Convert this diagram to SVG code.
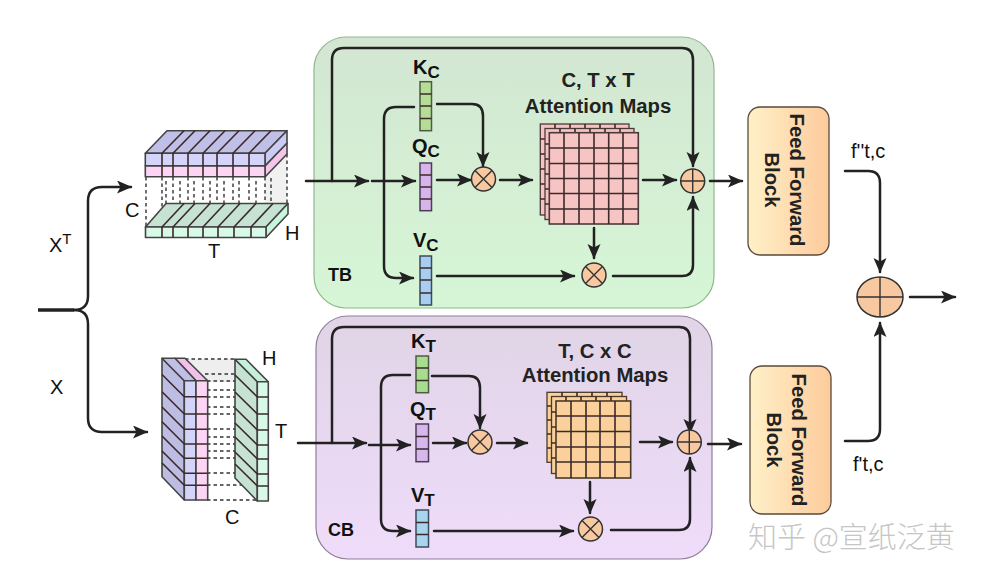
<svg xmlns="http://www.w3.org/2000/svg" width="981" height="577" viewBox="0 0 981 577">
<style>
text{font-family:"Liberation Sans",Arial,sans-serif;fill:#111}
.b{font-weight:bold}
.l{font-size:20px}
.k{font-size:20px;font-weight:bold}
.s{font-size:17px;font-weight:bold}
.t{font-size:20.300px;font-weight:bold;text-anchor:middle;fill:#222}
.c{fill:none;stroke:#222;stroke-width:2.500;stroke-linecap:round;stroke-linejoin:round}
.a{marker-end:url(#ah)}
.e{stroke:#444;stroke-width:1.600;stroke-linejoin:round}
.g{fill:none;stroke:#3a2a2a;stroke-width:1.600}
.d{fill:none;stroke:#333;stroke-width:1.400;stroke-dasharray:3.500 3}
.o{fill:#f8c9a0;stroke:#333;stroke-width:1.500}
.x{fill:none;stroke:#333;stroke-width:1.400}
</style>
<defs>
<marker id="ah" markerUnits="userSpaceOnUse" markerWidth="16" markerHeight="14" refX="14" refY="6.500" orient="auto"><path d="M0,0 L15,6.500 L0,13 L3.500,6.500 Z" fill="#222"/></marker>
<linearGradient id="gt" x1="0" y1="0" x2="0" y2="1"><stop offset="0" stop-color="#d3e6d2"/><stop offset="1" stop-color="#d6f6d6"/></linearGradient>
<linearGradient id="gc" x1="0" y1="0" x2="0" y2="1"><stop offset="0" stop-color="#e0d4e6"/><stop offset="1" stop-color="#efdcfa"/></linearGradient>
<linearGradient id="gf" x1="0" y1="0" x2="1" y2="0"><stop offset="0" stop-color="#fff0c8"/><stop offset="1" stop-color="#fdcb9c"/></linearGradient>
</defs>
<rect width="981" height="577" fill="#fff"/>

<g id="TB">
<rect x="314" y="37" width="400" height="271" rx="32" fill="url(#gt)" stroke="#8fb98c" stroke-width="1.200"/>
<text x="328" y="281" class="b" font-size="18">TB</text>
</g>
<g id="CB">
<rect x="316" y="316" width="396" height="243" rx="32" fill="url(#gc)" stroke="#8e7f99" stroke-width="1.200"/>
<text x="328" y="536" class="b" font-size="18">CB</text>
</g>

<g id="cube-top">
<path d="M265,177 L287,154 L287,204 L265,227 Z" fill="#eeeeee" opacity=".8"/>
<path class="d" d="M146,177V227M162,177V227M173,177V227M188,177V227M203,177V227M217,177V227M233,177V227M249,177V227M265,177V227M166,181V204M180,181V204M194,181V204M210,181V204M224,181V204M239,181V204M256,181V204M271,178V204M287,154V204"/>
<path class="e" fill="#c6e2d2" d="M145.500,227 L166,203.500 L288,203.500 L266,227 Z"/>
<path class="e" fill="#c8f5dc" d="M266,227 L288,203.500 L288,214 L266,237.500 Z"/>
<rect class="e" x="145.500" y="227" width="120.500" height="10.500" fill="#d9f9e8"/>
<path class="g" d="M162,227V237.500M173,227V237.500M188,227V237.500M203,227V237.500M218,227V237.500M234,227V237.500M251,227V237.500M162,227L184,203.500M173,227L195,203.500M188,227L210,203.500M203,227L225,203.500M218,227L240,203.500M234,227L256,203.500M251,227L273,203.500"/>
<path class="e" fill="#f5c6ea" d="M265,166 L287,143 L287,154 L265,177 Z"/>
<rect class="e" x="145.300" y="165.700" width="119.700" height="11" fill="#fbd5f3"/>
<path class="e" fill="#c0bfe8" d="M145.300,153.300 L167,130.700 L287,130.700 L265,153.300 Z"/>
<path class="e" fill="#cbcbf5" d="M265,153.300 L287,130.700 L287,143 L265,165.700 Z"/>
<rect class="e" x="145.300" y="153.300" width="119.700" height="12.400" fill="#d4d4fb"/>
<path class="g" d="M162,153.300V176.700M173,153.300V176.700M188,153.300V176.700M203,153.300V176.700M217,153.300V176.700M233,153.300V176.700M249,153.300V176.700M162,153.300L184,130.700M173,153.300L195,130.700M188,153.300L210,130.700M203,153.300L225,130.700M217,153.300L239,130.700M233,153.300L255,130.700M249,153.300L271,130.700"/>
<text x="125" y="217" class="l">C</text>
<text x="208" y="258" class="l">T</text>
<text x="285" y="240" class="l">H</text>
</g>

<g id="cube-bottom">
<path d="M185,359 L235,359 L257,382 L207,382 Z" fill="#eeeeee"/>
<path class="d" d="M185,359H235M207,381H257M207,397H257M207,414H257M207,429H257M207,444H257M207,458H257M207,473H257M207,485H257M207,500H257M205,374H250M207,390H235M207,407H235M207,437H235M207,451H235"/>
<path class="e" fill="#c6e2d2" d="M235,359.300 L257.300,381.700 L257.300,501 L235,478 Z"/>
<path class="e" fill="#c4f0d8" d="M235,359.300 L246,359.300 L268.300,381.700 L257.300,381.700 Z"/>
<rect class="e" x="257.300" y="381.700" width="11" height="119.300" fill="#d9f9e8"/>
<path class="g" d="M257.300,397H268.300M257.300,414H268.300M257.300,430H268.300M257.300,445H268.300M257.300,459H268.300M257.300,474H268.300M257.300,486H268.300M235,375L257.300,397M235,392L257.300,414M235,408L257.300,430M235,423L257.300,445M235,437L257.300,459M235,452L257.300,474M235,464L257.300,486"/>
<path class="e" fill="#bdbce2" d="M162,358.300 L184.300,380.700 L184.300,500 L162,476.700 Z"/>
<path class="e" fill="#f3c0ea" d="M175,358.300 L185,358.300 L207.700,380.700 L196,380.700 Z"/>
<path class="e" fill="#c0bfe8" d="M162,358.300 L175,358.300 L196,380.700 L184.300,380.700 Z"/>
<rect class="e" x="184.300" y="380.700" width="11.700" height="119.300" fill="#d4d4fb"/>
<rect class="e" x="196" y="380.700" width="11.700" height="119.300" fill="#fbd5f3"/>
<path class="g" d="M184.300,396.700H207.700M184.300,414H207.700M184.300,429.300H207.700M184.300,444H207.700M184.300,458.300H207.700M184.300,473.300H207.700M184.300,485.300H207.700M162,374.500L184.300,396.700M162,391.700L184.300,414M162,407L184.300,429.300M162,421.700L184.300,444M162,436L184.300,458.300M162,451L184.300,473.300M162,463L184.300,485.300"/>
<text x="262" y="365" class="l">H</text>
<text x="275" y="438" class="l">T</text>
<text x="225" y="524" class="l">C</text>
</g>

<g id="connectors">
<path d="M38,310 H74" fill="none" stroke="#222" stroke-width="3.500"/>
<path class="c a" d="M74,310 Q88,310 88,296 V201 Q88,187 102,187 H131"/>
<path class="c a" d="M74,310 Q88,310 88,324 V418 Q88,432 102,432 H147"/>
<path class="c a" d="M306,181 H368"/>
<path class="c a" d="M332,181 V60 Q332,48 344,48 H682 Q693,48 693,60 V166"/>
<path class="c a" d="M372,181 H415"/>
<path class="c a" d="M414,107 H396 Q384,107 384,119 V266 Q384,278 396,278 H413"/>
<path class="c a" d="M437,104 H472 Q483,104 483,116 V166"/>
<path class="c a" d="M437,180 H471"/>
<path class="c a" d="M500,180 H532"/>
<path class="c a" d="M643,180 H676"/>
<path class="c a" d="M594,228 V258"/>
<path class="c a" d="M437,276 H574"/>
<path class="c a" d="M613,276 H682 Q693,276 693,265 V197"/>
<path class="c a" d="M710,181 H742"/>
<path class="c a" d="M298,443 H366"/>
<path class="c a" d="M332,443 V339 Q332,327 344,327 H679 Q690,327 690,339 V433"/>
<path class="c a" d="M369,445 H410"/>
<path class="c a" d="M410,375 H393 Q381,375 381,387 V519 Q381,531 393,531 H410"/>
<path class="c a" d="M432,376 H469 Q480,376 480,388 V428"/>
<path class="c a" d="M433,443 H466"/>
<path class="c a" d="M497,443 H527"/>
<path class="c a" d="M640,442 H672"/>
<path class="c a" d="M590,482 V513"/>
<path class="c a" d="M434,531 H573"/>
<path class="c a" d="M611,530 H679 Q690,530 690,519 V458"/>
<path class="c a" d="M708,444 H741"/>
<path class="c a" d="M845,171 H868 Q880,171 880,183 V272"/>
<path class="c a" d="M845,441 H868 Q880,441 880,429 V323"/>
<path class="c a" d="M910,297 H955"/>
</g>

<g id="Kc">
<text x="413" y="74" class="k">K<tspan class="s" dy="4">C</tspan></text>
<rect x="420" y="81.700" width="11.500" height="49" fill="#b5dd95" stroke="#4c5c44" stroke-width="1.500"/>
<path class="g" d="M420,94H431.500M420,106H431.500M420,118.500H431.500"/>
</g>
<g id="Qc">
<text x="412" y="153" class="k">Q<tspan class="s" dy="4">C</tspan></text>
<rect x="420" y="163" width="11.500" height="47.700" fill="#d8b4ea" stroke="#4c3c5c" stroke-width="1.500"/>
<path class="g" d="M420,175H431.500M420,187H431.500M420,199H431.500"/>
</g>
<g id="Vc">
<text x="413" y="247" class="k">V<tspan class="s" dy="4">C</tspan></text>
<rect x="420" y="256" width="11.500" height="49" fill="#a8cdf0" stroke="#3c4c5c" stroke-width="1.500"/>
<path class="g" d="M420,268H431.500M420,280H431.500M420,293H431.500"/>
</g>
<g id="Kt">
<text x="411" y="348" class="k">K<tspan class="s" dy="4">T</tspan></text>
<rect x="416" y="356" width="12.500" height="36.700" fill="#a8dd90" stroke="#4c5c44" stroke-width="1.500"/>
<path class="g" d="M416,368H428.500M416,380.500H428.500"/>
</g>
<g id="Qt">
<text x="410" y="416" class="k">Q<tspan class="s" dy="4">T</tspan></text>
<rect x="416" y="424" width="12.500" height="37.700" fill="#d8b8ec" stroke="#4c3c5c" stroke-width="1.500"/>
<path class="g" d="M416,436.500H428.500M416,449H428.500"/>
</g>
<g id="Vt">
<text x="411" y="502" class="k">V<tspan class="s" dy="4">T</tspan></text>
<rect x="416" y="510" width="12.500" height="37" fill="#a8d4f0" stroke="#3c4c5c" stroke-width="1.500"/>
<path class="g" d="M416,522.500H428.500M416,534.500H428.500"/>
</g>

<g id="maps-top">
<text x="598" y="87" class="t">C, T x T</text>
<text x="598" y="113" class="t">Attention Maps</text>
<rect x="540.300" y="124" width="88.700" height="91" fill="#f7c2c2" stroke="#4a3a3a" stroke-width="1.300"/>
<path class="g" d="M555,124V215M570,124V215M585,124V215M600,124V215M615,124V215M540,139H629M540,154H629M540,169H629M540,184H629M540,199H629"/>
<rect x="545" y="128.500" width="89" height="91" fill="#f7c2c2" stroke="#4a3a3a" stroke-width="1.300"/>
<path class="g" d="M560,128.500V219M575,128.500V219M590,128.500V219M605,128.500V219M620,128.500V219M545,144H634M545,159H634M545,174H634M545,189H634M545,204H634"/>
<rect x="549.300" y="132.700" width="89" height="91.300" fill="#f7c4c4" stroke="#4a3a3a" stroke-width="1.600"/>
<path class="g" d="M564,132.700V224M579,132.700V224M594,132.700V224M608.700,132.700V224M623,132.700V224M549.300,148H638.300M549.300,163.500H638.300M549.300,178.500H638.300M549.300,193.500H638.300M549.300,209H638.300"/>
</g>
<g id="maps-bottom">
<text x="595" y="358" class="t">T, C x C</text>
<text x="595" y="382" class="t">Attention Maps</text>
<rect x="547" y="392.300" width="75" height="70" fill="#fbd09a" stroke="#4a3a2a" stroke-width="1.300"/>
<path class="g" d="M562,392V462M577,392V462M592,392V462M607,392V462M547,406H622M547,420H622M547,434H622M547,448H622"/>
<rect x="551.500" y="396.500" width="75" height="77" fill="#fbd09a" stroke="#4a3a2a" stroke-width="1.300"/>
<path class="g" d="M566,396.500V473M581,396.500V473M596,396.500V473M611,396.500V473M551.500,412H626.500M551.500,427H626.500M551.500,443H626.500M551.500,458H626.500"/>
<rect x="556" y="401" width="74.700" height="77" fill="#fbd09a" stroke="#4a3a2a" stroke-width="1.600"/>
<path class="g" d="M571,401V478M586,401V478M600,401V478M615,401V478M556,416H630.700M556,431.500H630.700M556,447H630.700M556,462H630.700"/>
</g>

<g id="mul-1"><circle class="o" cx="483.500" cy="179" r="12"/><path class="x" d="M475,170.500L492,187.500M492,170.500L475,187.500"/></g>
<g id="mul-2"><circle class="o" cx="594" cy="275" r="12"/><path class="x" d="M585.500,266.500L602.500,283.500M602.500,266.500L585.500,283.500"/></g>
<g id="mul-3"><circle class="o" cx="480" cy="442" r="12"/><path class="x" d="M471.500,433.500L488.500,450.500M488.500,433.500L471.500,450.500"/></g>
<g id="mul-4"><circle class="o" cx="590.500" cy="529" r="12"/><path class="x" d="M582,520.500L599,537.500M599,520.500L582,537.500"/></g>
<g id="add-1"><circle class="o" cx="692.700" cy="181" r="12"/><path class="x" d="M680.700,181H704.700M692.700,169V193"/></g>
<g id="add-2"><circle class="o" cx="689.300" cy="442" r="12"/><path class="x" d="M677.300,442H701.300M689.300,430V454"/></g>
<g id="add-3"><ellipse class="o" cx="880" cy="297" rx="23" ry="20"/><path class="x" d="M857,297H903M880,277V317"/></g>

<g id="ff-top">
<rect x="748" y="107" width="81" height="148" rx="12" fill="url(#gf)" stroke="#5a4a3a" stroke-width="1.300"/>
<text class="t" transform="translate(790,180) rotate(90)">Feed Forward</text>
<text class="t" transform="translate(765,180) rotate(90)">Block</text>
</g>
<g id="ff-bottom">
<rect x="750" y="366" width="81" height="148" rx="12" fill="url(#gf)" stroke="#5a4a3a" stroke-width="1.300"/>
<text class="t" transform="translate(792,440) rotate(90)">Feed Forward</text>
<text class="t" transform="translate(767,440) rotate(90)">Block</text>
</g>

<g id="labels">
<text x="49" y="252" class="l">X<tspan font-size="15" dy="-8">T</tspan></text>
<text x="50" y="394" class="l">X</text>
<text x="851" y="158" font-size="20">f''t,c</text>
<text x="853" y="471" font-size="20">f't,c</text>
<text x="748" y="548" font-size="29" style="font-family:'Noto Sans CJK SC','Liberation Sans',sans-serif;fill:#c6c6c6;font-weight:300">知乎 @宣纸泛黄</text>
</g>
</svg>
